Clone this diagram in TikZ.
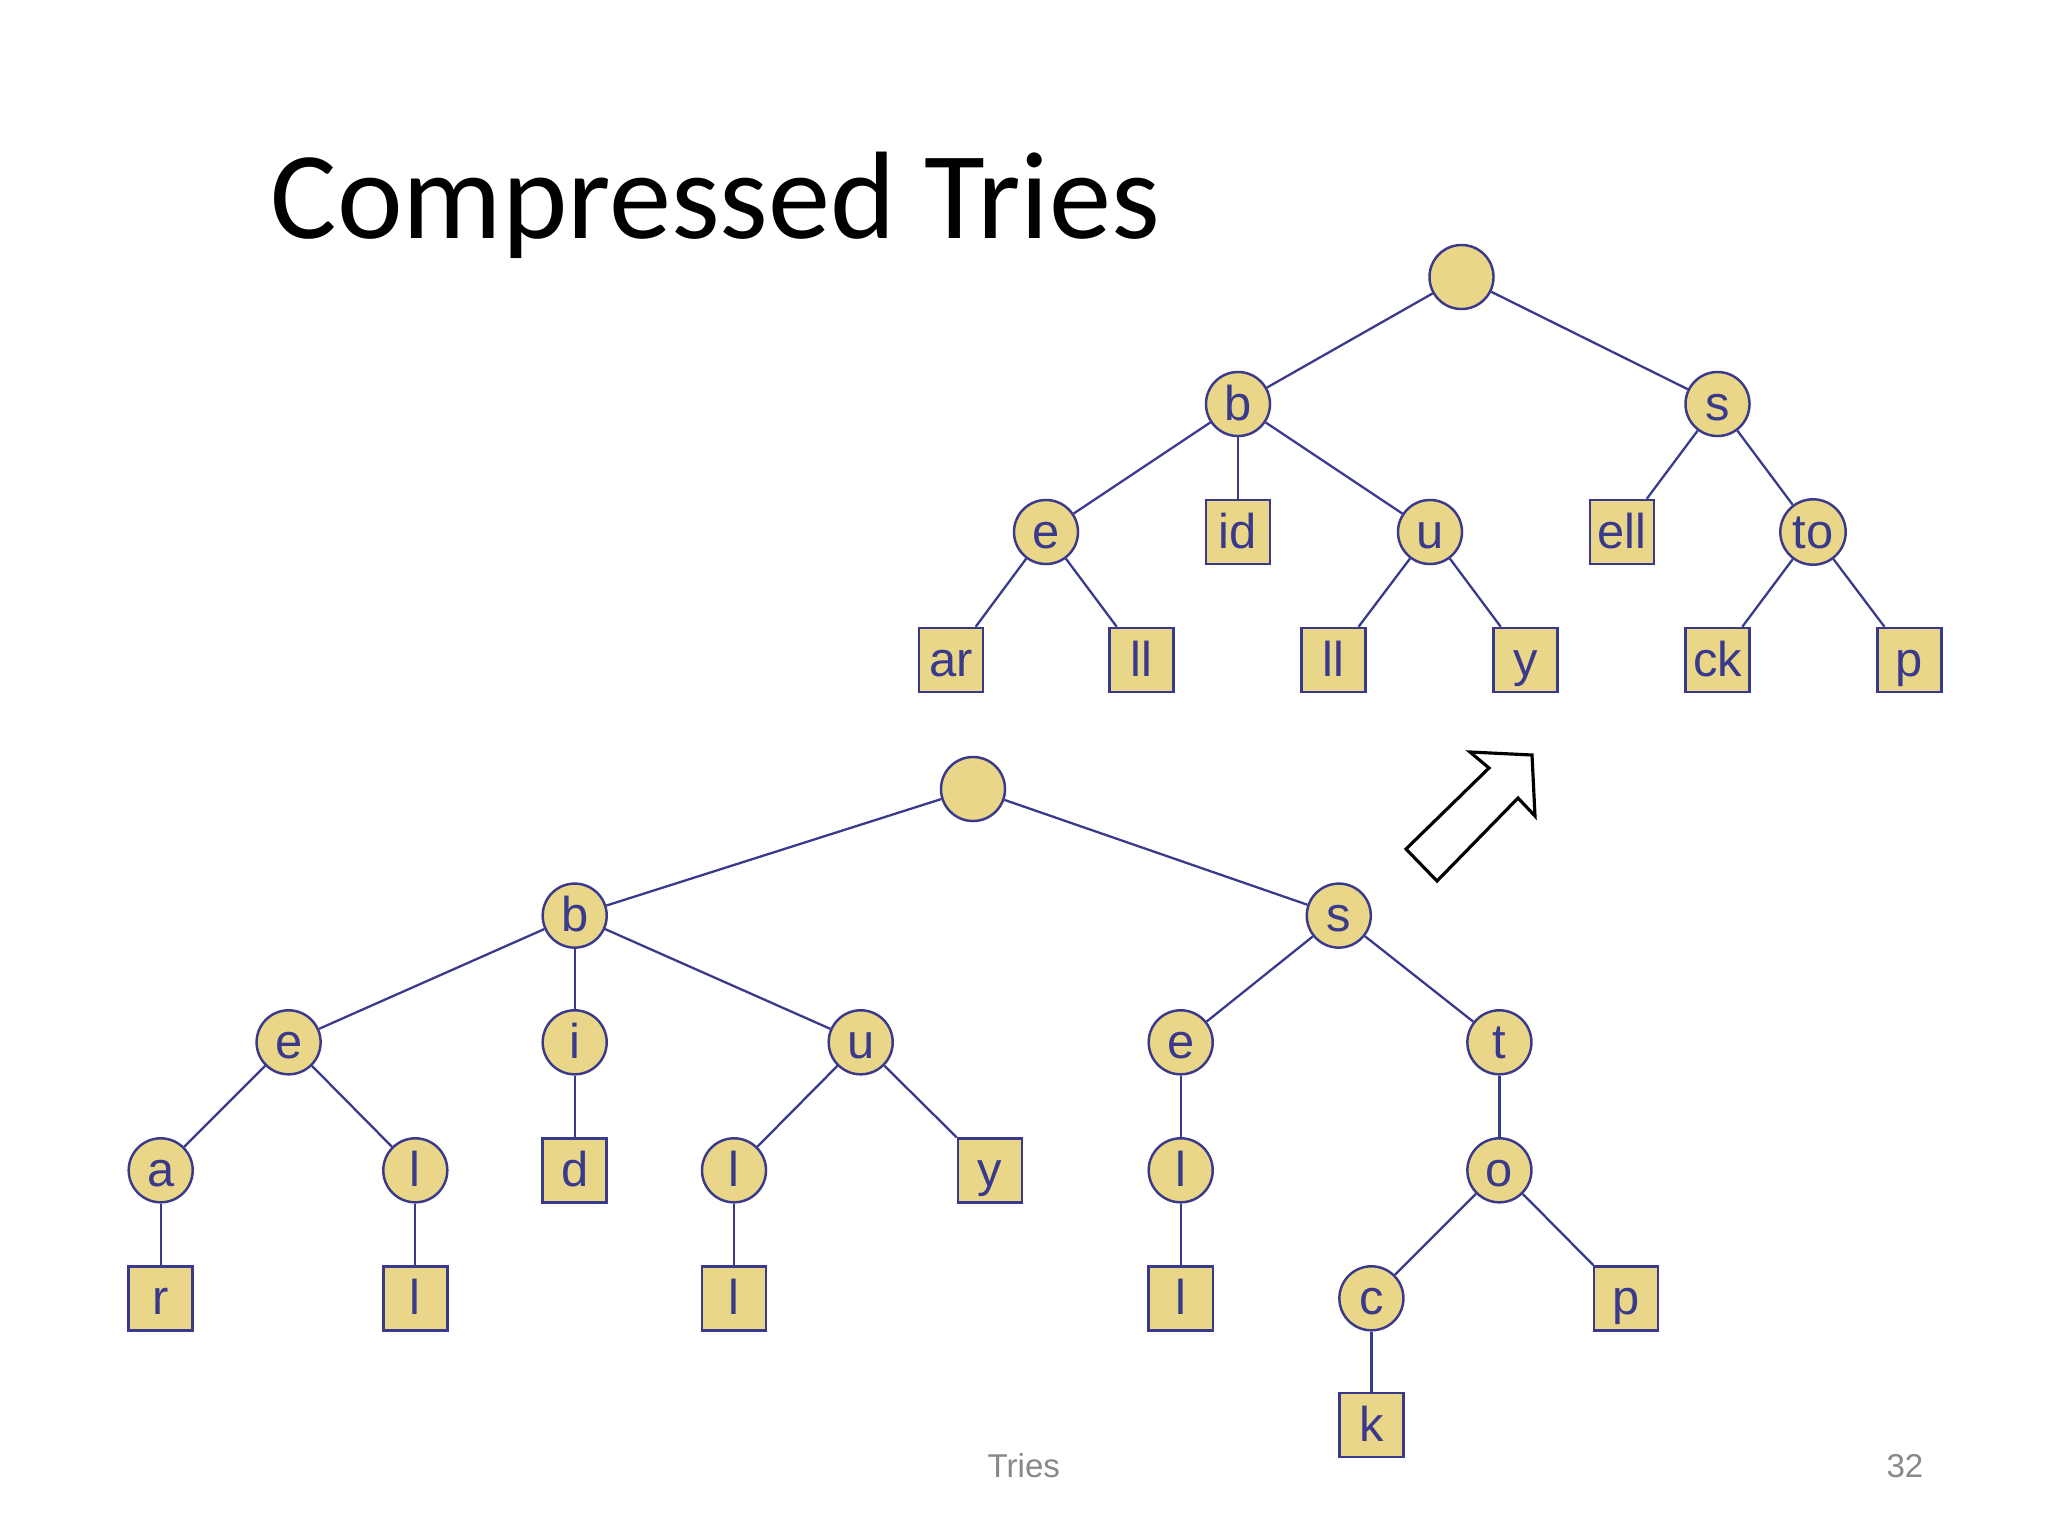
\documentclass[tikz,border=0pt]{standalone}
\usepackage{fontspec}
\setmainfont{Liberation Sans}
\newfontfamily\titlefont{Carlito}
\definecolor{navy}{RGB}{58,58,140}
\definecolor{tan}{RGB}{234,214,136}
\definecolor{footgray}{RGB}{137,137,137}
\tikzset{
  cnode/.style={circle, draw=navy, fill=tan, line width=0.7pt, minimum size=0.64cm, inner sep=0pt,
    text=navy, font=\fontsize{13.9}{16}\selectfont, text height=11.9pt, text depth=2.7pt},
  bnode/.style={rectangle, draw=navy, fill=tan, line width=0.7pt, minimum size=0.64cm, inner sep=0pt,
    text=navy, font=\fontsize{13.9}{16}\selectfont, text height=11.9pt, text depth=2.7pt},
  edge/.style={draw=navy, line width=0.65pt},
  foot/.style={text=footgray, font=\fontsize{9.4}{11}\selectfont, inner sep=0pt}
}
\begin{document}
\begin{tikzpicture}[x=0.01cm,y=-0.01cm]
\useasboundingbox (0,0) rectangle (2048,1536);
\fill[white] (0,0) rectangle (2048,1536);

\node[anchor=base west, inner sep=0pt, font=\titlefont\fontsize{35.4}{42}\selectfont] (title) at (270,238) {Compressed Tries};

% top tree
\node[cnode] (T0) at (1461.5,277) {};
\node[cnode] (Tb) at (1238,404) {b};
\node[cnode] (Ts) at (1717.5,404) {s};
\node[cnode] (Te) at (1046,532) {e};
\node[bnode] (Tid) at (1238,532) {id};
\node[cnode] (Tu) at (1430,532) {u};
\node[bnode] (Tell) at (1622,532) {ell};
\node[cnode] (Tto) at (1813,532) {to};
\node[bnode] (Tar) at (951,660) {ar};
\node[bnode] (Tll1) at (1141.5,660) {ll};
\node[bnode] (Tll2) at (1333.5,660) {ll};
\node[bnode] (Ty) at (1525.5,660) {y};
\node[bnode] (Tck) at (1717.5,660) {ck};
\node[bnode] (Tp) at (1909.5,660) {p};
\foreach \a/\b in {T0/Tb,T0/Ts,Tb/Te,Tb/Tid,Tb/Tu,Ts/Tell,Ts/Tto,Te/Tar,Te/Tll1,Tu/Tll2,Tu/Ty,Tto/Tck,Tto/Tp}
  \draw[edge] (\a) -- (\b);

% bottom tree
\node[cnode] (B0) at (973,789) {};
\node[cnode] (Bb) at (574.7,915.6) {b};
\node[cnode] (Bs) at (1338.8,915.6) {s};
\node[cnode] (Be) at (288.6,1042.3) {e};
\node[cnode] (Bi) at (574.7,1042.3) {i};
\node[cnode] (Bu) at (860.7,1042.3) {u};
\node[cnode] (Be2) at (1180.7,1042.3) {e};
\node[cnode] (Bt) at (1499.4,1042.3) {t};
\node[cnode] (Ba) at (160.7,1170.3) {a};
\node[cnode] (Bl1) at (415.3,1170.3) {l};
\node[bnode] (Bd) at (574.7,1170.3) {d};
\node[cnode] (Bl2) at (734,1170.3) {l};
\node[bnode] (By) at (990,1170.3) {y};
\node[cnode] (Bl3) at (1180.7,1170.3) {l};
\node[cnode] (Bo) at (1499.4,1170.3) {o};
\node[bnode] (Br) at (160.7,1298.3) {r};
\node[bnode] (Bl1b) at (415.3,1298.3) {l};
\node[bnode] (Bl2b) at (734,1298.3) {l};
\node[bnode] (Bl3b) at (1180.7,1298.3) {l};
\node[cnode] (Bc) at (1371.4,1298.3) {c};
\node[bnode] (Bp) at (1626.1,1298.3) {p};
\node[bnode] (Bk) at (1371.4,1425) {k};
\foreach \a/\b in {B0/Bb,B0/Bs,Bb/Be,Bb/Bi,Bb/Bu,Bs/Be2,Bs/Bt,Be/Ba,Be/Bl1,Bi/Bd,Bu/Bl2,Bu/By,Be2/Bl3,Bt/Bo,Ba/Br,Bl1/Bl1b,Bl2/Bl2b,Bl3/Bl3b,Bo/Bc,Bo/Bp,Bc/Bk}
  \draw[edge] (\a) -- (\b);

% hollow arrow
\draw[line width=0.9pt, fill=white, line join=miter] (1406,849) -- (1437,881) -- (1518,798) -- (1535,816) -- (1532,755) -- (1470,752) -- (1489,768) -- cycle;

% footer
\node[foot, anchor=base west] (ftxt) at (987,1477) {Tries};
\node[foot, anchor=base east] (fnum) at (1924,1477) {32};
\end{tikzpicture}
\end{document}
